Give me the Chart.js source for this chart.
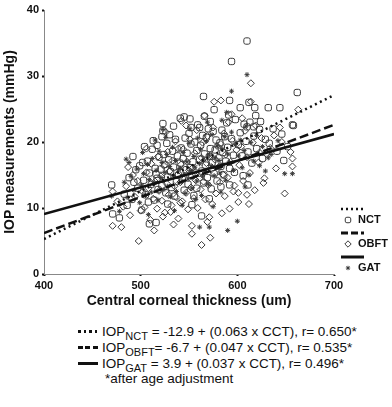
<!DOCTYPE html>
<html>
<head>
<meta charset="utf-8">
<script src="https://cdn.jsdelivr.net/npm/chart.js@4.4.1/dist/chart.umd.min.js"></script>
<style>
body{margin:0;background:#fff;font-family:"Liberation Sans",Arial,sans-serif;color:#111}
#wrap{position:relative;width:392px;height:407px;overflow:hidden}
#c{position:absolute;left:0;top:0}
.eq{position:absolute;left:78px;font-size:13.5px;line-height:16px;white-space:nowrap}
.eq sub{font-size:11px;vertical-align:-4px;line-height:0}
.smp{display:inline-block;width:20px;margin-right:4px;vertical-align:middle;position:relative;top:-1px}
.dot{height:3px;background:repeating-linear-gradient(90deg,#111 0 2.5px,transparent 2.5px 5.5px)}
.dsh{height:3px;background:repeating-linear-gradient(90deg,#111 0 5px,transparent 5px 7.5px)}
.sol{height:2.5px;background:#111}
</style>
</head>
<body>
<div id="wrap">
<canvas id="c" width="392" height="310"></canvas>
<div class="eq" style="top:324px"><span class="smp dot"></span>IOP<sub>NCT</sub> = -12.9 + (0.063 x CCT), r= 0.650*</div>
<div class="eq" style="top:340px"><span class="smp dsh"></span>IOP<sub>OBFT</sub>= -6.7 + (0.047 x CCT), r= 0.535*</div>
<div class="eq" style="top:356px"><span class="smp sol"></span>IOP<sub>GAT</sub> = 3.9 + (0.037 x CCT), r= 0.496*</div>
<div class="eq" style="top:371px;left:105px">*after age adjustment</div>
</div>
<script>
// axis ticks
const xTicks=[400,500,600,700]
const yTicks=[0,10,20,30,40]

// fitted lines, IOP at CCT 400 and 700 (as drawn)
const fitX=[400,700]
const nctFit=[5.3,27.1]
const obftFit=[6.2,22.6]
const gatFit=[9.1,21.2]

// NCT measurements [CCT, IOP]
const nctPts=[
[610,35.3],[594,32.2],[565,26.9],[576,24.9],[592,26.3],[603,25.2],[618,25.2],[632,25.2],[644,25.2],[662,27.5],
[658,22.5],[523,22.8],[551,23.5],[552,22.2],[572,23.1],[561,22.2],[610,22.3],[617,22.3],[624,23.1],[517,19.5],
[648,17.2],[657,22.6],[563,8.8],[592,13.5],[611,13.5],[471,9.1],[478,8.5],[509,7.6],[516,7.8],[501,9.7],
[470,13.5],[492,17.8],[502,16.9],[522,20.8],[541,23.6],
[483,12.1],[488,14.6],[491,11.3],[495,15.8],[497,13.0],[486,10.4],[499,16.4],[493,13.9],
[503,14.2],[505,12.0],[507,17.1],[509,15.3],[511,13.6],[512,18.9],[514,11.2],[515,16.0],[517,14.5],[518,12.8],
[519,17.7],[504,19.3],[508,10.9],[513,20.2],[516,15.1],
[521,15.9],[522,13.4],[524,18.1],[525,16.6],[526,12.3],[527,19.8],[528,14.7],[529,17.3],[530,21.1],[531,15.5],
[532,13.1],[533,18.6],[534,16.2],[535,11.8],[536,20.4],[537,14.0],[538,17.9],[539,15.0],[523,21.7],[528,10.6],[534,22.4],
[541,16.8],[542,19.1],[543,14.4],[544,17.5],[545,12.7],[546,20.6],[547,15.8],[548,18.3],[549,13.6],[550,21.3],
[551,16.1],[552,19.7],[553,14.9],[554,17.0],[555,11.9],[556,20.0],[557,15.3],[558,18.7],[559,22.6],[545,23.8],[553,10.5],[558,13.0],
[561,17.4],[562,19.5],[563,15.6],[564,21.0],[565,13.8],[566,18.2],[567,16.5],[568,20.7],[569,14.6],[570,22.0],
[571,17.8],[572,19.0],[573,12.9],[574,16.9],[575,21.6],[576,15.2],[577,18.8],[578,20.3],[579,14.1],[566,23.9],[571,11.4],
[581,17.6],[582,19.9],[583,16.3],[584,21.8],[585,18.4],[586,15.0],[587,20.8],[588,17.1],[589,22.9],[590,19.2],
[592,16.0],[594,20.5],[596,18.0],[598,23.4],[583,13.2],[591,24.1],[597,15.4],
[601,19.6],[603,21.4],[605,17.9],[607,22.7],[609,20.1],[611,18.5],[613,23.0],[615,16.8],[617,20.9],[620,19.0],
[623,21.9],[626,17.5],[629,20.4],[606,14.9],[619,24.0],[612,26.0],
[633,19.8],[637,22.0],[641,18.6],[646,21.2],[652,19.3]
]

// OBFT measurements [CCT, IOP]
const obftPts=[
[542,23.2],[576,26.1],[583,26.3],[614,28.9],[614,26.1],[594,24.2],[644,22.2],[663,24.9],[657,17.5],[657,16.3],
[649,12.2],[623,18.4],[592,9.9],[563,4.4],[572,5.5],[569,7.9],[601,10.9],[612,10.6],[610,12.0],[601,12.3],
[498,5.0],[471,7.3],[480,7.1],[523,8.7],[539,8.4],[553,7.3],[531,9.4],[541,10.8],[492,15.0],[471,12.5],
[638,21.0],[628,14.5],
[482,10.2],[485,13.3],[489,8.9],[494,11.7],[497,14.1],[500,9.6],[487,16.2],[476,11.0],
[502,12.5],[504,10.1],[506,15.4],[508,13.0],[510,8.2],[511,16.7],[513,11.4],[515,14.0],[517,9.9],[518,17.8],
[519,12.6],[506,19.0],[514,6.6],
[521,14.8],[522,11.1],[524,16.4],[525,9.3],[527,13.7],[528,18.5],[529,12.0],[530,15.6],[532,10.4],[533,17.2],
[535,13.3],[536,20.1],[537,11.6],[538,15.0],[539,19.0],[526,21.5],[534,7.5],
[541,13.9],[542,16.6],[543,11.0],[544,18.9],[546,14.5],[547,12.3],[548,17.0],[549,9.8],[550,15.7],[551,20.4],
[552,13.1],[554,16.1],[555,11.5],[556,18.3],[557,14.2],[558,21.8],[559,10.0],[547,22.5],[553,6.1],
[561,15.3],[562,12.8],[563,17.6],[564,19.9],[565,14.0],[567,11.3],[568,16.8],[569,20.9],[570,13.5],[572,18.0],
[573,15.8],[574,10.6],[575,22.2],[577,17.3],[578,12.2],[579,19.4],[566,24.0],[571,8.6],
[581,16.2],[582,13.9],[583,19.7],[585,15.1],[586,21.3],[587,11.8],[588,18.1],[590,14.6],[591,23.0],[593,17.0],
[595,20.2],[597,13.4],[599,18.8],[584,9.2],[596,12.5],
[602,16.5],[604,19.3],[606,14.1],[608,21.7],[610,17.7],[613,15.3],[616,19.9],[619,22.5],[622,16.9],[625,20.6],
[627,13.8],[630,18.2],[605,23.6],[618,12.7],
[634,19.1],[640,16.0],[646,20.0],[655,18.5]
]

// GAT measurements [CCT, IOP]
const gatPts=[
[610,30.2],[594,27.7],[584,23.3],[523,21.9],[649,15.2],[657,15.2],[632,17.6],[561,7.1],[571,7.1],[502,18.4],
[470,11.8],[478,9.5],[488,16.9],[600,8.0],[590,6.6],
[483,13.9],[486,11.6],[490,14.8],[493,12.7],[496,15.9],[499,10.8],[485,17.4],
[501,13.5],[503,15.2],[505,11.9],[507,16.6],[509,14.3],[511,12.4],[512,17.5],[514,13.8],[516,15.7],[518,11.2],
[519,18.6],[508,9.0],[515,20.3],
[521,14.6],[522,16.9],[524,12.8],[525,15.4],[527,18.1],[528,13.3],[530,16.3],[531,11.7],[533,19.2],[534,14.9],
[536,17.2],[537,12.5],[539,15.8],[526,20.7],[535,9.6],
[541,16.0],[542,13.9],[544,18.4],[545,15.1],[546,12.2],[548,17.0],[549,14.4],[550,19.8],[552,15.6],[553,13.0],
[555,17.8],[556,16.2],[558,14.1],[559,20.6],[543,10.4],[551,22.0],[557,11.3],
[561,16.7],[562,18.9],[564,14.8],[565,17.3],[567,15.5],[568,20.1],[570,13.6],[571,18.0],[573,16.4],[574,21.1],
[576,14.9],[577,17.6],[579,19.4],[563,11.9],[569,23.0],[575,10.2],
[581,17.2],[582,15.3],[584,19.0],[585,16.6],[587,20.8],[588,14.2],[590,18.2],[592,16.9],[594,21.5],[596,15.7],
[598,19.6],[583,12.4],[589,24.5],
[601,17.9],[603,20.3],[605,16.1],[607,18.7],[609,22.4],[612,15.0],[614,19.9],[617,17.1],[620,21.0],[623,16.4],
[626,19.3],[629,15.6],[608,13.2],
[635,18.1],[642,20.2]
]

const toXY=a=>a.map(p=>({x:p[0],y:p[1]}))
const fitXY=f=>fitX.map((x,i)=>({x:x,y:f[i]}))

const ink="#111"
const mark="#3a3a3a"

// legend drawn beside the plot, bottom right
const legendItems=[
{label:"NCT",style:"rectRounded",r:3.2,dash:[2,3],w:2.5},
{label:"OBFT",style:"rectRot",r:3.2,dash:[7,3],w:3},
{label:"GAT",style:"star",r:2.2,dash:[],w:3}
]

const sideLegend={
id:"sideLegend",
afterDraw(chart){
let c=chart.ctx
c.save()
legendItems.forEach((it,i)=>{
let y0=209+i*24
c.strokeStyle=ink
c.lineWidth=it.w
c.setLineDash(it.dash)
c.beginPath()
c.moveTo(341,y0)
c.lineTo(364,y0)
c.stroke()
c.setLineDash([])
c.lineWidth=1
c.strokeStyle=mark
c.fillStyle="rgba(0,0,0,0)"
Chart.helpers.drawPoint(c,{pointStyle:it.style,radius:it.r,rotation:0,borderWidth:1},348,y0+11)
c.fillStyle=ink
c.font="bold 11px 'Liberation Sans', Arial, sans-serif"
c.textBaseline="middle"
c.textAlign="left"
c.fillText(it.label,358,y0+11)
})
c.restore()
}
}

const axisFont={family:"'Liberation Sans', Arial, sans-serif",size:11,weight:"bold"}

new Chart(document.getElementById("c"),{
type:"scatter",
data:{
datasets:[
{label:"NCT",data:toXY(nctPts),pointStyle:"rectRounded",pointRadius:3.7,borderColor:mark,backgroundColor:"rgba(0,0,0,0)",borderWidth:1,order:3},
{label:"OBFT",data:toXY(obftPts),pointStyle:"rectRot",pointRadius:3.5,borderColor:mark,backgroundColor:"rgba(0,0,0,0)",borderWidth:1,order:2},
{label:"GAT",data:toXY(gatPts),pointStyle:"star",pointRadius:2.5,borderColor:mark,backgroundColor:"rgba(0,0,0,0)",borderWidth:1,order:1},
{label:"NCT fit",data:fitXY(nctFit),showLine:true,pointRadius:0,borderColor:ink,borderWidth:2.5,borderDash:[2,3.5],order:0},
{label:"OBFT fit",data:fitXY(obftFit),showLine:true,pointRadius:0,borderColor:ink,borderWidth:2.5,borderDash:[9,4],order:0},
{label:"GAT fit",data:fitXY(gatFit),showLine:true,pointRadius:0,borderColor:ink,borderWidth:2.5,order:0}
]
},
options:{
responsive:false,
animation:false,
layout:{padding:{top:10,right:58,left:0,bottom:0}},
plugins:{legend:{display:false},tooltip:{enabled:false}},
scales:{
x:{
type:"linear",min:400,max:700,
afterBuildTicks:s=>{s.ticks=xTicks.map(v=>({value:v}))},
border:{display:true,color:"#888",width:1},
grid:{display:true,drawOnChartArea:false,drawTicks:true,tickLength:2,color:ink,tickWidth:2},
ticks:{font:axisFont,color:ink,padding:3,maxRotation:0},
title:{display:true,text:"Central corneal thickness (um)",color:ink,font:{family:axisFont.family,size:14,weight:"bold"},padding:{top:2,bottom:0}},
afterFit:s=>{s.height=36}
},
y:{
min:0,max:40,
afterBuildTicks:s=>{s.ticks=yTicks.map(v=>({value:v}))},
border:{display:true,color:"#888",width:1},
grid:{display:true,drawOnChartArea:false,drawTicks:true,tickLength:2,color:ink,tickWidth:2},
ticks:{font:axisFont,color:ink,padding:3},
title:{display:true,text:"IOP measurements (mmHg)",color:ink,font:{family:axisFont.family,size:14,weight:"bold"},padding:{top:2,bottom:2}},
afterFit:s=>{s.width=44}
}
}
},
plugins:[sideLegend]
})
</script>
</body>
</html>
